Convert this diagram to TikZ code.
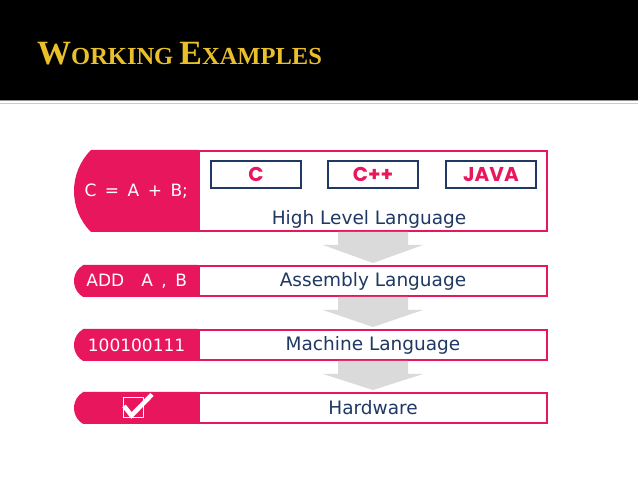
\documentclass[tikz,border=0pt]{standalone}
\usepackage{fontspec}
\setmainfont{DejaVu Sans}
\newfontfamily\titlefont{Liberation Serif}
\newfontfamily\tagfont{Poppins}
\usetikzlibrary{positioning, calc, shapes.misc}
\definecolor{langpink}{HTML}{E8175D}
\definecolor{langnavy}{HTML}{1F3864}
\definecolor{arrowgray}{HTML}{DADADA}
\definecolor{titlegold}{HTML}{E9C02B}
\tikzset{
  codepart/.style={rounded rectangle, rounded rectangle right arc=none,
    rounded rectangle arc length=120, fill=langpink, text=white,
    minimum width=124pt, minimum height=32pt, inner sep=0pt, outer sep=0pt,
    font=\fontsize{17}{20}\selectfont,
    execute at begin node={\spaceskip=0.5em\relax}},
  langbox/.style={draw=langpink, line width=2pt, fill=white,
    minimum width=348pt, minimum height=30pt, inner sep=0pt,
    text=langnavy, font=\fontsize{18.5}{20}\selectfont},
  langtag/.style={draw=langnavy, line width=2pt, minimum width=90pt,
    minimum height=27pt, inner sep=0pt, text=langpink,
    font=\tagfont\bfseries\fontsize{20}{22}\selectfont},
}

\begin{document}
\begin{tikzpicture}[x=1pt,y=1pt]
  \useasboundingbox (0,0) rectangle (638,478);
  % title bar
  \fill[black] (0,378) rectangle (638,478);
  \draw[gray!85, line width=1pt] (0,377.5)--(638,377.5);
  \draw[gray!40, line width=1.2pt] (0,374.3)--(638,374.3);
  \node[anchor=base west, inner sep=0pt, text=titlegold, font=\titlefont\bfseries] (title) at (37,413)
    {\fontsize{34}{36}\selectfont W\fontsize{24.5}{26}\selectfont ORKING
     \fontsize{34}{36}\selectfont E\fontsize{24.5}{26}\selectfont XAMPLES};

  % high level row
  \node[langbox, minimum height=80pt] (hll) at (373,287) {};
  \node[codepart, minimum height=82pt, rounded rectangle arc length=90, left=0pt of hll] (hllcode) {C = A + B;};
  \node[langtag, below=10pt of hll.north] (cpp) {C++};
  \node[langtag, left=25pt of cpp] (c) {C};
  \node[langtag, right=26pt of cpp] (java) {JAVA};
  \node[anchor=base, inner sep=0pt, text=langnavy, font=\fontsize{18.5}{20}\selectfont] (hlltext)
    at ($(hll.south)+(-4,7)$) {High Level Language};

  % lower rows
  \node[langbox, below=33pt of hll] (asm) {Assembly Language};
  \node[codepart, left=0pt of asm] (asmcode) {ADD\ \ A , B};
  \node[langbox, below=32pt of asm] (mach) {Machine Language};
  \node[codepart, left=0pt of mach] (machcode) {100100111};
  \node[langbox, below=31pt of mach] (hw) {Hardware};
  \node[codepart, left=0pt of hw] (hwcode) {};

  % tick
  \node[draw=white, line width=0.6pt, minimum size=20pt, inner sep=0pt] (tick)
    at ($(hwcode.center)+(-3,0.5)$) {};
  \draw[white, line width=4.5pt] ($(tick.center)+(-9,1.5)$)--($(tick.center)+(-1.5,-8)$)--($(tick.center)+(19,13)$);

  % arrows
  \foreach \a/\b in {hll/asm, asm/mach, mach/hw}
    \fill[arrowgray] ($(\a.south)+(-35,0)$)--($(\a.south)+(35,0)$)--($(\a.south)+(35,-13)$)
      --($(\a.south)+(50,-13)$)--($(\b.north)+(0,2)$)--($(\a.south)+(-50,-13)$)
      --($(\a.south)+(-35,-13)$)--cycle;
\end{tikzpicture}
\end{document}
